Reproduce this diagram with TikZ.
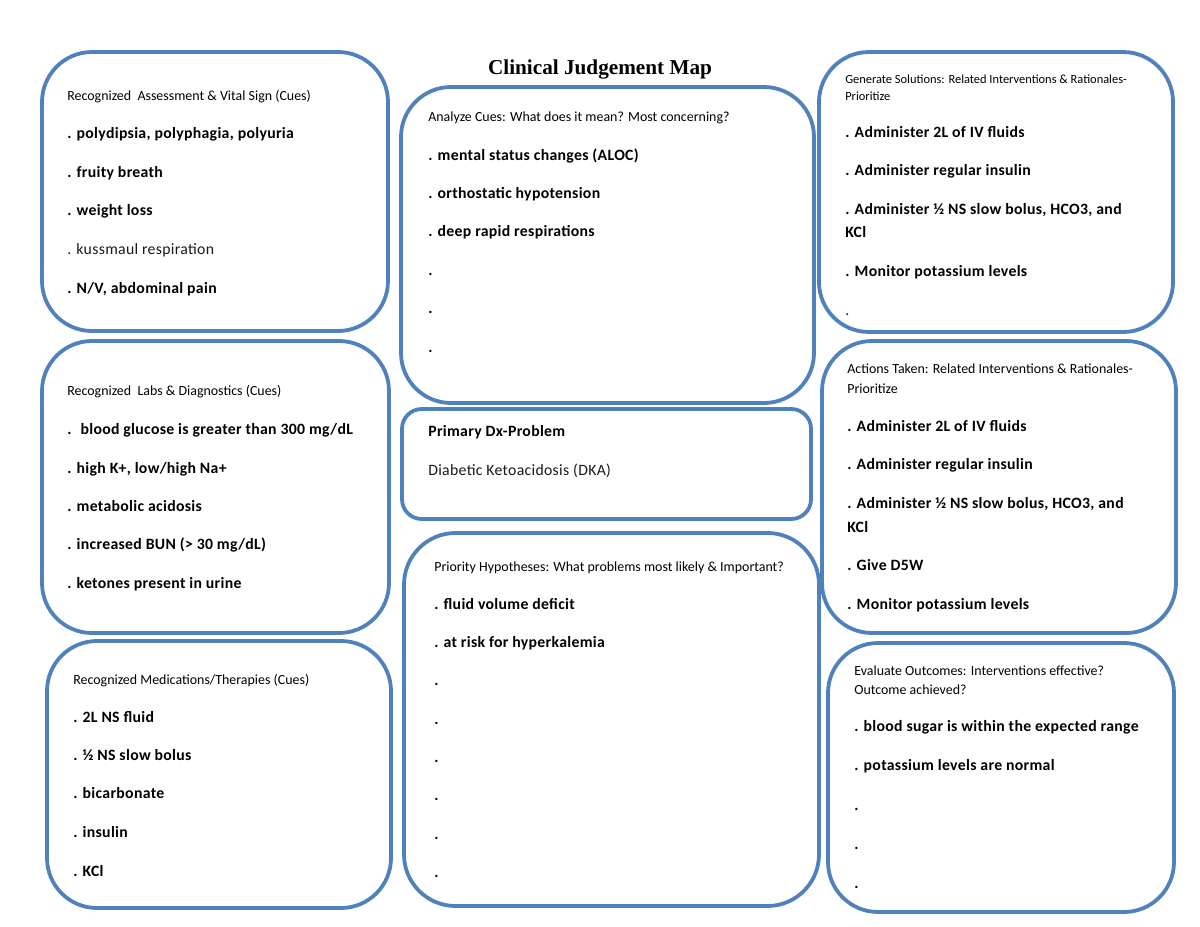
\documentclass[tikz,border=0pt]{standalone}
\usepackage{fontspec}
\setmainfont{Carlito}
\newfontfamily\titlefont{Liberation Serif}
\definecolor{boxblue}{HTML}{4F81BD}
\tikzset{
  x=0.66pt,y=-0.66pt,
  card/.style={draw=boxblue,line width=2.5pt,rounded corners=#1},
  head/.style={anchor=base west,inner sep=0pt,font=\fontsize{9.2}{11}\selectfont,text=black},
  item/.style={anchor=base west,inner sep=0pt,font=\fontsize{10.4}{12}\selectfont\bfseries\addfontfeature{LetterSpace=2},text=black},
  plain/.style={anchor=base west,inner sep=0pt,font=\fontsize{10.4}{12}\selectfont\addfontfeature{LetterSpace=2},text=black!90},
}
\begin{document}
\begin{tikzpicture}
\useasboundingbox (0,0) rectangle (1200,927);
% boxes
\draw[card=33pt] (42,52) rectangle (388,331);
\draw[card=33pt] (42,341) rectangle (389,633);
\draw[card=33pt] (47,641) rectangle (391,908);
\draw[card=33pt] (401,87) rectangle (814,403);
\draw[card=13pt] (402,409) rectangle (811,519);
\draw[card=34pt] (404,533) rectangle (819,906);
\draw[card=33pt] (819,52) rectangle (1173,332);
\draw[card=33pt] (822,341) rectangle (1176,633);
\draw[card=33pt] (828,643) rectangle (1174,912);
% title
\node[anchor=base,inner sep=0pt,font=\fontsize{14}{16}\selectfont\titlefont\bfseries] (title) at (600,74) {Clinical Judgement Map};
% left top
\node[head] (a0) at (67,100) {Recognized~ Assessment \& Vital Sign (Cues)};
\node[item] (a1) at (67,138) {. polydipsia, polyphagia, polyuria};
\node[item] (a2) at (67,177) {. fruity breath};
\node[item] (a3) at (67,215) {. weight loss};
\node[plain] (a4) at (67,254) {. kussmaul respiration};
\node[item] (a5) at (67,293) {. N/V, abdominal pain};
% left middle
\node[head] (b0) at (67,395) {Recognized~ Labs \& Diagnostics (Cues)};
\node[item] (b1) at (67,434) {.~ blood glucose is greater than 300 mg/dL};
\node[item] (b2) at (67,473) {. high K+, low/high Na+};
\node[item] (b3) at (67,511) {. metabolic acidosis};
\node[item] (b4) at (67,549) {. increased BUN (> 30 mg/dL)};
\node[item] (b5) at (67,588) {. ketones present in urine};
% left bottom
\node[head] (c0) at (73,684) {Recognized Medications/Therapies (Cues)};
\node[item] (c1) at (73,722) {. 2L NS fluid};
\node[item] (c2) at (73,760) {. ½ NS slow bolus};
\node[item] (c3) at (73,798) {. bicarbonate};
\node[item] (c4) at (73,837) {. insulin};
\node[item] (c5) at (73,876) {. KCl};
% centre top
\node[head] (d0) at (428,121) {Analyze Cues: What does it mean? Most concerning?};
\node[item] (d1) at (428,160) {. mental status changes (ALOC)};
\node[item] (d2) at (428,198) {. orthostatic hypotension};
\node[item] (d3) at (428,236) {. deep rapid respirations};
\node[item] (d4) at (428,275) {.};
\node[item] (d5) at (428,313) {.};
\node[item] (d6) at (428,352) {.};
% centre middle
\node[item] (e0) at (428,436) {Primary Dx-Problem};
\node[plain] (e1) at (428,475) {Diabetic Ketoacidosis (DKA)};
% centre bottom
\node[head] (f0) at (434,571) {Priority Hypotheses: What problems most likely \& Important?};
\node[item] (f1) at (434,609) {. fluid volume deficit};
\node[item] (f2) at (434,647) {. at risk for hyperkalemia};
\node[item] (f3) at (434,685) {.};
\node[item] (f4) at (434,724) {.};
\node[item] (f5) at (434,762) {.};
\node[item] (f6) at (434,800) {.};
\node[item] (f7) at (434,839) {.};
\node[item] (f8) at (434,877) {.};
% right top
\node[head,font=\fontsize{8.2}{10}\selectfont] (g0) at (845,83) {Generate Solutions: Related Interventions \& Rationales-};
\node[head,font=\fontsize{8.2}{10}\selectfont] (g1) at (845,100) {Prioritize};
\node[item] (g2) at (845,137) {. Administer 2L of IV fluids};
\node[item] (g3) at (845,175) {. Administer regular insulin};
\node[item] (g4) at (845,214) {. Administer ½ NS slow bolus, HCO3, and};
\node[item] (g5) at (845,237) {KCl};
\node[item] (g6) at (845,276) {. Monitor potassium levels};
\node[plain] (g7) at (845,315) {.};
% right middle
\node[head] (h0) at (847,373) {Actions Taken: Related Interventions \& Rationales-};
\node[head] (h1) at (847,393) {Prioritize};
\node[item] (h2) at (847,431) {. Administer 2L of IV fluids};
\node[item] (h3) at (847,469) {. Administer regular insulin};
\node[item] (h4) at (847,508) {. Administer ½ NS slow bolus, HCO3, and};
\node[item] (h5) at (847,532) {KCl};
\node[item] (h6) at (847,570) {. Give D5W};
\node[item] (h7) at (847,609) {. Monitor potassium levels};
% right bottom
\node[head] (i0) at (854,675) {Evaluate Outcomes: Interventions effective?};
\node[head] (i1) at (854,694) {Outcome achieved?};
\node[item] (i2) at (854,731) {. blood sugar is within the expected range};
\node[item] (i3) at (854,770) {. potassium levels are normal};
\node[item] (i4) at (854,810) {.};
\node[item] (i5) at (854,849) {.};
\node[item] (i6) at (854,888) {.};
\end{tikzpicture}
\end{document}
